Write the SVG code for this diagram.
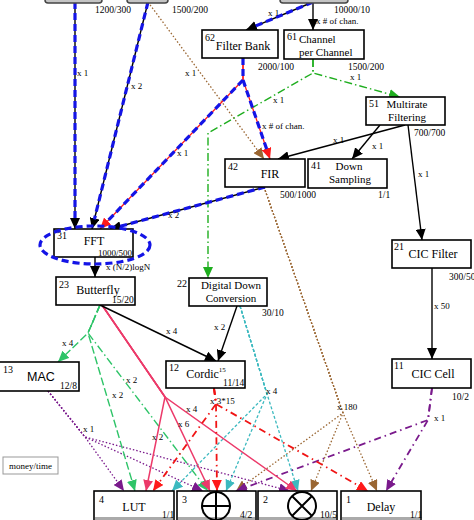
<svg xmlns="http://www.w3.org/2000/svg" width="474" height="520" viewBox="0 0 474 520">
<defs>
<style>
text{font-family:"Liberation Serif","Times New Roman",serif;fill:#000}
.t{font-size:12px;text-anchor:middle}
.t2{font-size:11px;text-anchor:middle}
.n{font-size:10px}
.c{font-size:9.5px}
.e{font-size:9px}
.box{fill:#fff;stroke:#000;stroke-width:1.6}
.bk{fill:none;stroke:#000;stroke-width:1.4}
.bl{fill:none;stroke:#1414e6;stroke-width:3.2;stroke-dasharray:7,4}
.rd{fill:none;stroke:#ff1a1a;stroke-width:1.3}
.br{fill:none;stroke:#9a6632;stroke-width:1.3;stroke-dasharray:1.5,2}
.g1{fill:none;stroke:#1fae1f;stroke-width:1.4;stroke-dasharray:8,3,1.5,3}
.g2{fill:none;stroke:#2ec468;stroke-width:1.4;stroke-dasharray:8,3}
.g3{fill:none;stroke:#2ec468;stroke-width:1.4;stroke-dasharray:8,3,1.5,3}
.cr{fill:none;stroke:#ec3a6a;stroke-width:1.5}
.rdd{fill:none;stroke:#f01414;stroke-width:1.8;stroke-dasharray:7,4,1.5,4}
.tl{fill:none;stroke:#3cb9bf;stroke-width:1.3;stroke-dasharray:3,2}
.pu{fill:none;stroke:#7a1a8c;stroke-width:1.3;stroke-dasharray:1.5,2}
.pdd{fill:none;stroke:#7a1a8c;stroke-width:1.8;stroke-dasharray:7,4,1.5,4}
</style>
<marker id="aK" markerUnits="userSpaceOnUse" markerWidth="11" markerHeight="10" refX="11" refY="5" orient="auto"><path d="M0,0 L11,5 L0,10 z" fill="#000"/></marker>
<marker id="aR" markerUnits="userSpaceOnUse" markerWidth="11" markerHeight="10" refX="11" refY="5" orient="auto"><path d="M0,0 L11,5 L0,10 z" fill="#ff1a1a"/></marker>
<marker id="aB" markerUnits="userSpaceOnUse" markerWidth="11" markerHeight="10" refX="11" refY="5" orient="auto"><path d="M0,0 L11,5 L0,10 z" fill="#9a6632"/></marker>
<marker id="aG1" markerUnits="userSpaceOnUse" markerWidth="11" markerHeight="10" refX="11" refY="5" orient="auto"><path d="M0,0 L11,5 L0,10 z" fill="#1fae1f"/></marker>
<marker id="aG2" markerUnits="userSpaceOnUse" markerWidth="11" markerHeight="10" refX="11" refY="5" orient="auto"><path d="M0,0 L11,5 L0,10 z" fill="#2ec468"/></marker>
<marker id="aC" markerUnits="userSpaceOnUse" markerWidth="11" markerHeight="10" refX="11" refY="5" orient="auto"><path d="M0,0 L11,5 L0,10 z" fill="#ec3a6a"/></marker>
<marker id="aT" markerUnits="userSpaceOnUse" markerWidth="11" markerHeight="10" refX="11" refY="5" orient="auto"><path d="M0,0 L11,5 L0,10 z" fill="#3cb9bf"/></marker>
<marker id="aP" markerUnits="userSpaceOnUse" markerWidth="11" markerHeight="10" refX="11" refY="5" orient="auto"><path d="M0,0 L11,5 L0,10 z" fill="#7a1a8c"/></marker>
</defs>
<rect width="474" height="520" fill="#fff"/>

<g id="connectors">
<path class="br" d="M148,2 L264,159" marker-end="url(#aB)"/>
<path class="br" d="M264,187 L343,413 L236,491" marker-end="url(#aB)"/>
<path class="br" d="M264,187 L343,413 L311,491" marker-end="url(#aB)"/>
<path class="br" d="M264,187 L343,413 L377,491" marker-end="url(#aB)"/>
<path class="g1" d="M313,59 L313,73 L400,97" marker-end="url(#aG1)"/>
<path class="g1" d="M313,59 L313,73 L208,133 L208,278" marker-end="url(#aG1)"/>
<path class="pu" d="M48,391 L85,437 L124,491" marker-end="url(#aP)"/>
<path class="pu" d="M48,391 L85,437 L203,491" marker-end="url(#aP)"/>
<path class="pu" d="M48,391 L85,437 L290,491" marker-end="url(#aP)"/>
<path class="pdd" d="M432,388 L428,420 L386,491" marker-end="url(#aP)"/>
<path class="pdd" d="M432,388 L428,420 L236,491" marker-end="url(#aP)"/>
<path class="tl" d="M240,306 L267,394 L172,491" marker-end="url(#aT)"/>
<path class="tl" d="M240,306 L267,394 L226,491" marker-end="url(#aT)"/>
<path class="tl" d="M240,306 L267,394 L298,491" marker-end="url(#aT)"/>
<path class="g2" d="M100,305 L88,333 L58,362" marker-end="url(#aG2)"/>
<path class="g2" d="M100,305 L88,333 L135,491" marker-end="url(#aG2)"/>
<path class="g3" d="M100,305 L88,333 L208,491" marker-end="url(#aG2)"/>
<path class="cr" d="M102,305 L165,397 L146,491" marker-end="url(#aC)"/>
<path class="cr" d="M102,305 L165,397 L210,491" marker-end="url(#aC)"/>
<path class="cr" d="M102,305 L165,397 L297,491" marker-end="url(#aC)"/>
<path class="rdd" d="M214,388 L216,404 L153,491" marker-end="url(#aR)"/>
<path class="rdd" d="M214,388 L216,404 L217,491" marker-end="url(#aR)"/>
<path class="rdd" d="M214,388 L216,404 L368,491" marker-end="url(#aR)"/>
<path class="rd" d="M243,58 L243,80 L100,229" marker-end="url(#aR)"/>
<path class="rd" d="M243,58 L243,80 L270,159" marker-end="url(#aR)"/>
<path class="bk" d="M75,2 L75,229" marker-end="url(#aK)"/>
<path class="bk" d="M148,2 L92,229" marker-end="url(#aK)"/>
<path class="bk" d="M313,2 L246,30" marker-end="url(#aK)"/>
<path class="bk" d="M313,2 L313,30" marker-end="url(#aK)"/>
<path class="bk" d="M405,125 L278,159" marker-end="url(#aK)"/>
<path class="bk" d="M380,125 L352,159" marker-end="url(#aK)"/>
<path class="bk" d="M408,125 L422,240" marker-end="url(#aK)"/>
<path class="bk" d="M432,268 L432,359" marker-end="url(#aK)"/>
<path class="bk" d="M265,187 L110,229" marker-end="url(#aK)"/>
<path class="bk" d="M95,257 L95,277" marker-end="url(#aK)"/>
<path class="bk" d="M100,305 L216,361" marker-end="url(#aK)"/>
<path class="bk" d="M237,306 L218,361" marker-end="url(#aK)"/>
<path class="bl" d="M75,2 L75,219"/>
<path class="bl" d="M148,2 L94.4,219.3"/>
<path class="bl" d="M313,2 L255.2,26.1"/>
<path class="bl" d="M243,58 L243,80 L106.9,221.8"/>
<path class="bl" d="M243,80 L266.8,149.5"/>
<path class="bl" d="M265,187 L119.7,226.4"/>
<text class="e" x="77" y="76">x 1</text>
<text class="e" x="131" y="89">x 2</text>
<text class="e" x="185" y="76">x 1</text>
<text class="e" x="268" y="16">x 1</text>
<text class="e" x="316" y="24">x # of chan.</text>
<text class="e" x="177" y="156">x 1</text>
<text class="e" x="262" y="129">x # of chan.</text>
<text class="e" x="350" y="80">x 1</text>
<text class="e" x="273" y="103">x 1</text>
<text class="e" x="333" y="143">x 1</text>
<text class="e" x="372" y="149">x 1</text>
<text class="e" x="418" y="177">x 1</text>
<text class="e" x="168" y="218">x 2</text>
<text class="e" x="106" y="270">x (N/2)logN</text>
<text class="e" x="434" y="309">x 50</text>
<text class="e" x="166" y="334">x 4</text>
<text class="e" x="214" y="330">x 2</text>
<text class="e" x="62" y="346">x 4</text>
<text class="e" x="126" y="383">x 2</text>
<text class="e" x="112" y="398">x 2</text>
<text class="e" x="186" y="412">x 4</text>
<text class="e" x="178" y="427">x 6</text>
<text class="e" x="152" y="440">x 2</text>
<text class="e" x="210" y="404">x 3*15</text>
<text class="e" x="266" y="394">x 4</text>
<text class="e" x="337" y="410">x 180</text>
<text class="e" x="83" y="432">x 1</text>
<text class="e" x="434" y="421">x 1</text>
</g>

<g id="top-a">
<rect x="45" y="-12" width="57" height="15" rx="3" fill="#c4c4c4" stroke="#444" stroke-width="1.5"/>
<text class="c" x="95" y="13">1200/300</text>
</g>
<g id="top-b">
<rect x="127" y="-12" width="41" height="15" rx="3" fill="#c4c4c4" stroke="#444" stroke-width="1.5"/>
<text class="c" x="172" y="13">1500/200</text>
</g>
<g id="top-c">
<rect x="280" y="-12" width="68" height="15" rx="3" fill="#c4c4c4" stroke="#444" stroke-width="1.5"/>
<text class="c" x="334" y="13">10000/10</text>
</g>

<g id="n62">
<rect class="box" x="202" y="30" width="76" height="28"/>
<text class="n" x="205" y="41">62</text>
<text class="t" x="243" y="50">Filter Bank</text>
<text class="c" x="258" y="70">2000/100</text>
</g>
<g id="n61">
<rect class="box" x="284" y="30" width="80" height="29"/>
<text class="n" x="287" y="40">61</text>
<text class="t2" style="text-anchor:start"><tspan x="299" y="43">Channel</tspan><tspan x="299" y="56">per Channel</tspan></text>
<text class="c" x="348" y="70">1500/200</text>
</g>
<g id="n51">
<rect class="box" x="366" y="97" width="79" height="28"/>
<text class="n" x="369" y="107">51</text>
<text class="t2"><tspan x="407" y="108">Multirate</tspan><tspan x="407" y="121">Filtering</tspan></text>
<text class="c" x="414" y="136">700/700</text>
</g>
<g id="n42">
<rect class="box" x="225" y="159" width="80" height="28"/>
<text class="n" x="228" y="170">42</text>
<text class="t" x="270" y="178">FIR</text>
<text class="c" x="280" y="198">500/1000</text>
</g>
<g id="n41">
<rect class="box" x="308" y="159" width="79" height="29"/>
<text class="n" x="311" y="169">41</text>
<text class="t2"><tspan x="349" y="170">Down</tspan><tspan x="350" y="183">Sampling</tspan></text>
<text class="c" x="378" y="198">1/1</text>
</g>
<g id="n31">
<rect class="box" x="54" y="229" width="79" height="28"/>
<text class="n" x="57" y="239">31</text>
<text class="t" x="94" y="245">FFT</text>
<text class="e" x="98" y="256">1000/500</text>
<ellipse cx="95" cy="245" rx="55" ry="19" fill="none" stroke="#1414e6" stroke-width="3.2" stroke-dasharray="7,4"/>
</g>
<g id="n23">
<rect class="box" x="56" y="277" width="79" height="28"/>
<text class="n" x="59" y="288">23</text>
<text class="t" x="98" y="294">Butterfly</text>
<text class="c" x="112" y="303">15/20</text>
</g>
<g id="n22">
<rect class="box" x="189" y="278" width="78" height="28"/>
<text class="n" x="177" y="287">22</text>
<text class="t2"><tspan x="231" y="289">Digital Down</tspan><tspan x="231" y="302">Conversion</tspan></text>
<text class="c" x="262" y="316">30/10</text>
</g>
<g id="n21">
<rect class="box" x="392" y="240" width="79" height="28"/>
<text class="n" x="394" y="250">21</text>
<text class="t" x="433" y="258">CIC Filter</text>
<text class="c" x="449" y="280">300/50</text>
</g>
<g id="n11">
<rect class="box" x="392" y="359" width="79" height="29"/>
<text class="n" x="394" y="369">11</text>
<text class="t" x="433" y="378">CIC Cell</text>
<text class="c" x="452" y="400">10/2</text>
</g>
<g id="n13">
<rect class="box" x="-2" y="362" width="81" height="29"/>
<text class="n" x="3" y="373">13</text>
<text x="41" y="381" style="font-family:'Liberation Sans',Arial,sans-serif;font-size:12.5px;text-anchor:middle">MAC</text>
<text class="c" x="60" y="389">12/8</text>
</g>
<g id="n12">
<rect class="box" x="166" y="361" width="79" height="27"/>
<text class="n" x="169" y="371">12</text>
<text class="t" x="206" y="378">Cordic<tspan dy="-6" style="font-size:7px">15</tspan></text>
<text class="c" x="223" y="386">11/14</text>
</g>

<g id="n4">
<rect class="box" x="94" y="491" width="80" height="34"/>
<rect x="95" y="517" width="78" height="3" fill="#aaa"/>
<text class="n" x="99" y="503">4</text>
<text class="t" x="134" y="511">LUT</text>
<text class="c" x="162" y="518">1/1</text>
</g>
<g id="n3">
<rect class="box" x="177" y="491" width="79" height="34"/>
<rect x="178" y="517" width="77" height="3" fill="#aaa"/>
<text class="n" x="182" y="503">3</text>
<circle cx="216" cy="506" r="14" fill="none" stroke="#000" stroke-width="2"/>
<path d="M202,506 H230 M216,492 V520" stroke="#000" stroke-width="2"/>
<text class="c" x="240" y="518">4/2</text>
</g>
<g id="n2">
<rect class="box" x="258" y="491" width="79" height="34"/>
<rect x="259" y="517" width="77" height="3" fill="#aaa"/>
<text class="n" x="263" y="503">2</text>
<circle cx="302" cy="506" r="14" fill="none" stroke="#000" stroke-width="2"/>
<path d="M292,496 L312,516 M312,496 L292,516" stroke="#000" stroke-width="2"/>
<text class="c" x="320" y="518">10/5</text>
</g>
<g id="n1">
<rect class="box" x="341" y="491" width="80" height="34"/>
<rect x="342" y="517" width="78" height="3" fill="#aaa"/>
<text class="n" x="346" y="503">1</text>
<text class="t" x="381" y="511">Delay</text>
<text class="c" x="410" y="518">1/1</text>
</g>

<g id="legend">
<rect x="3" y="457" width="55" height="17" fill="#fff" stroke="#999" stroke-width="1"/>
<text class="e" x="30.5" y="469" text-anchor="middle">money/time</text>
</g>
</svg>
